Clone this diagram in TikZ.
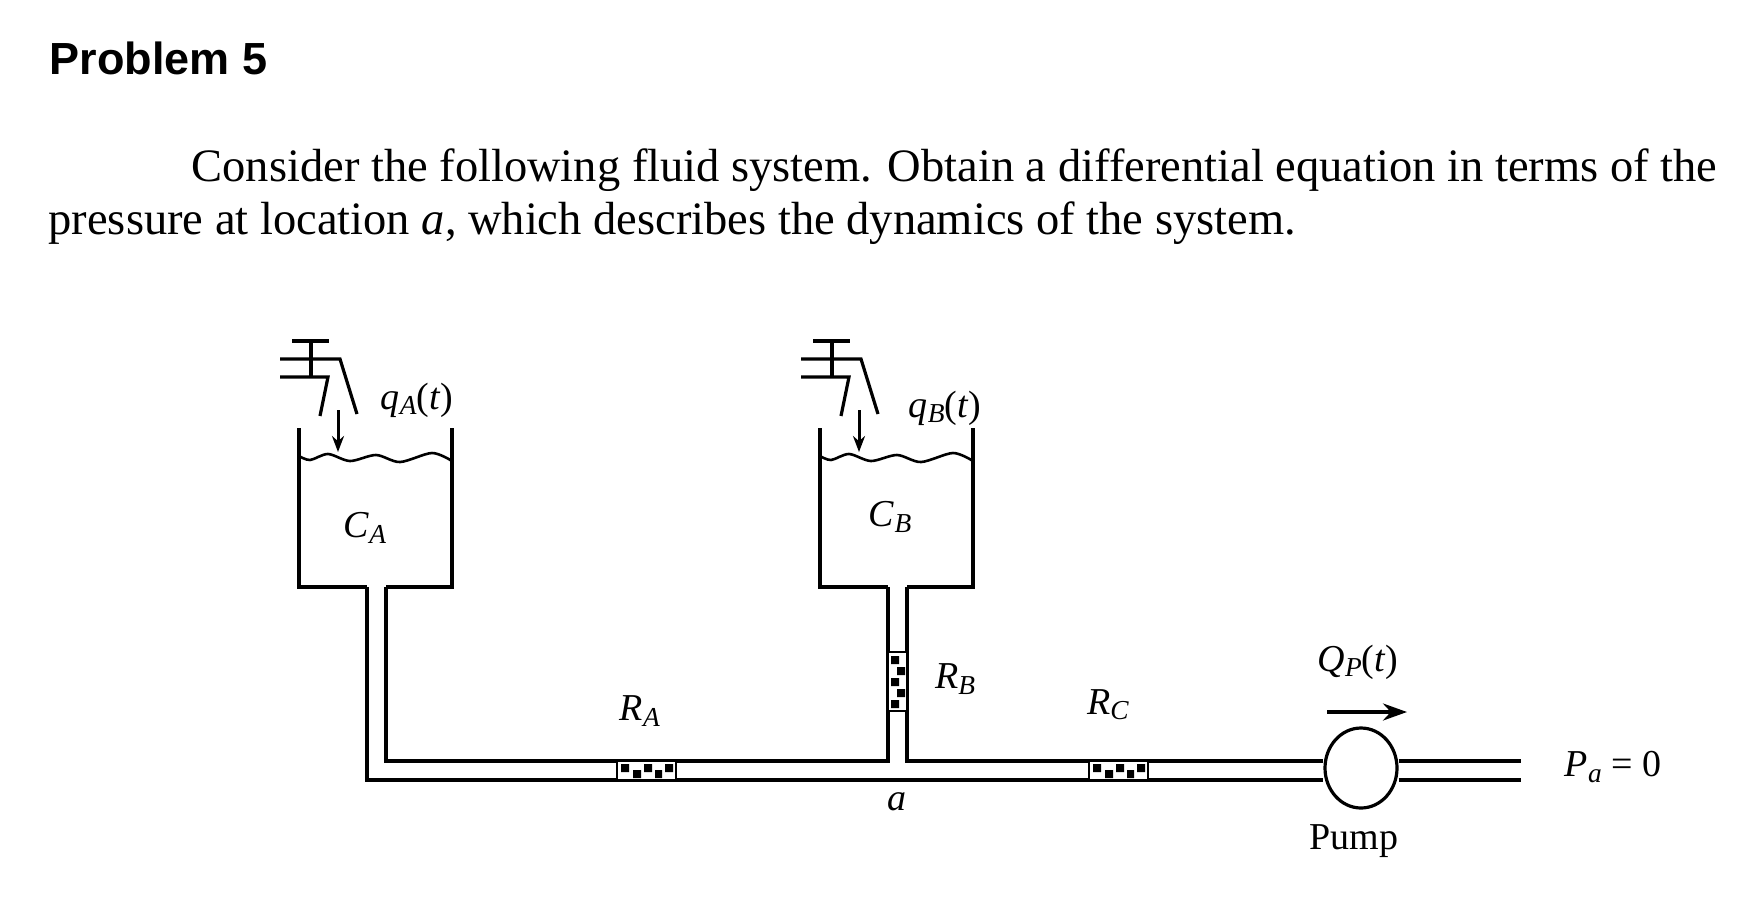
\documentclass[tikz,border=0pt]{standalone}
\usetikzlibrary{arrows.meta,shapes.geometric}
\usepackage{fontspec}
\setmainfont{Liberation Serif}
\newfontfamily\sansb{Liberation Sans}
\newcommand{\mysub}[1]{\raisebox{-0.3ex}{\scalebox{0.72}{\textit{#1}}}}
\begin{document}
\begin{tikzpicture}[x=1pt,y=-1pt,line width=3.2pt,
  lab/.style={font=\fontsize{38}{42}\selectfont,inner sep=0pt},
  res/.style={draw,fill=white,line width=2.6pt}]
\useasboundingbox (0,0) rectangle (1746,908);
\node[anchor=west,font=\sansb\bfseries\fontsize{45}{48}\selectfont,inner sep=0] (title) at (48,58) {Problem 5};
\node[anchor=base west,font=\fontsize{46.5}{52}\selectfont,inner sep=0] (l1) at (190,181) {Consider the following fluid system. Obtain a differential equation in terms of the};
\node[anchor=base west,font=\fontsize{46.5}{52}\selectfont,inner sep=0] (l2) at (47,234) {pressure at location \textit{a}, which describes the dynamics of the system.};
% faucets and tanks
\foreach \dx in {0,521}{
\begin{scope}[xshift=\dx]
 \draw (292,341) -- (329,341);
 \draw (311,341) -- (311,377);
 \draw (280,359) -- (340,359) -- (357,414);
 \draw (280,377) -- (328,377) -- (320,416);
 \draw[-{Stealth[length=16pt,width=12pt]},line width=3pt] (338,410) -- (338,452);
 \draw[line width=2.6pt] plot[smooth] coordinates {(299,456) (310,460) (328,454) (350,461) (376,455) (400,462) (432,453) (452,461)};
\end{scope}}
\draw (299,428) -- (299,587) -- (367,587) (386,587) -- (452,587) -- (452,428);
\draw (820,428) -- (820,587) -- (888,587) (907,587) -- (973,587) -- (973,428);
% pump
\node[draw,ellipse,line width=3.2pt,minimum width=72pt,minimum height=80pt,inner sep=0] (pump) at (1361,768) {};
\coordinate (end1) at (1521,761);
\coordinate (end2) at (1521,780);
% pipes
\draw (367,587) -- (367,780) -- (pump.west |- 0,780);
\draw (386,587) -- (386,761) -- (888,761) -- (888,587);
\draw (907,587) -- (907,761) -- (pump.west |- 0,761);
\draw (pump.east |- end1) -- (end1) (pump.east |- end2) -- (end2);
% resistors
\foreach \x in {617,1089}{
 \draw[res] (\x,761) rectangle ++(59,19);
 \fill (\x+4,764) rectangle ++(8,8) (\x+16,770) rectangle ++(8,8) (\x+27,764) rectangle ++(8,8) (\x+38,770) rectangle ++(7,8) (\x+48,764) rectangle ++(8,8);
}
\draw[res] (888,652) rectangle (907,711);
\fill (891,656) rectangle ++(8,8) (897,667) rectangle ++(8,8) (891,678) rectangle ++(8,8) (897,689) rectangle ++(8,8) (891,700) rectangle ++(8,8);
% arrow
\coordinate (ar1) at (1327,712);
\coordinate (ar2) at (1407,712);
\draw[-{Stealth[length=24pt,width=17pt]},line width=3.6pt] (ar1) -- (ar2);
% labels
\node[lab] (qa) at (417,400) {\textit{q}\mysub{A}(\textit{t})};
\node[lab] (qb) at (945,408) {\textit{q}\mysub{B}(\textit{t})};
\node[lab] (ca) at (365,528) {\textit{C}\mysub{A}};
\node[lab] (cb) at (890,517) {\textit{C}\mysub{B}};
\node[lab] (ra) at (640,711) {\textit{R}\mysub{A}};
\node[lab] (rb) at (955,679) {\textit{R}\mysub{B}};
\node[lab] (rc) at (1108,705) {\textit{R}\mysub{C}};
\node[lab] (qp) at (1358,662) {\textit{Q}\mysub{P}(\textit{t})};
\node[lab] (pa) at (1613,767) {\textit{P}\mysub{a} = 0};
\node[lab] (pl) at (1354,841) {Pump};
\node[lab] (a) at (897,802) {\textit{a}};
\end{tikzpicture}
\end{document}
